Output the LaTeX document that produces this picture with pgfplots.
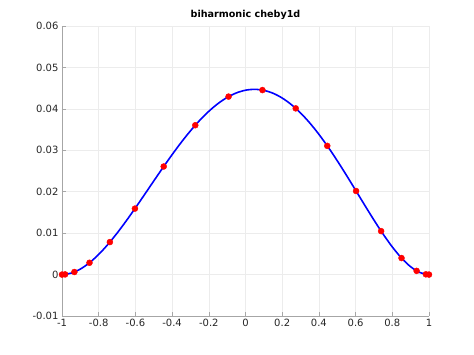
\documentclass[border=0pt]{standalone}
\usepackage{pgfplots}
\pgfplotsset{compat=1.18}
\usepackage{fontspec}
\setmainfont{DejaVu Sans}
\definecolor{axgray}{RGB}{38,38,38}
\begin{document}
\begin{tikzpicture}[x=1pt,y=1pt]
\useasboundingbox (-62,-39) rectangle (412,316);
\begin{axis}[
  at={(0,0)}, anchor=south west,
  scale only axis, width=367pt, height=290pt,
  xmin=-1, xmax=1, ymin=-0.01, ymax=0.06,
  xtick={-1,-0.8,...,1.01}, ytick={-0.01,0,0.01,0.02,0.03,0.04,0.05,0.06},
  xticklabels={-1,-0.8,-0.6,-0.4,-0.2,0,0.2,0.4,0.6,0.8,1},
  yticklabels={-0.01,0,0.01,0.02,0.03,0.04,0.05,0.06},
  scaled y ticks=false, scaled x ticks=false,
  axis x line*=bottom, axis y line*=left,
  axis line style={gray!70, line width=0.8pt, -},
  grid=major, grid style={gray!15, line width=0.5pt},
  tick style={gray!70, line width=0.6pt}, major tick length=4pt,
  tick align=inside,
  ticklabel style={font=\fontsize{10}{11}\selectfont, text=axgray},
  /pgf/number format/assume math mode=true,
  title={\textbf{biharmonic cheby1d}},
  title style={font=\fontsize{9.6}{10}\selectfont, yshift=-3pt},
  clip=false,
]
\addplot[blue, line width=1.6pt, smooth] coordinates {
(-1,0) (-0.95,0.000344) (-0.9,0.001324) (-0.85,0.002857) (-0.8,0.004865)
(-0.75,0.007269) (-0.7,0.009991) (-0.65,0.012955) (-0.6,0.016089)
(-0.55,0.019322) (-0.5,0.022584) (-0.45,0.025812) (-0.4,0.028944)
(-0.35,0.031921) (-0.3,0.034689) (-0.25,0.037200) (-0.2,0.039408)
(-0.15,0.041273) (-0.1,0.042762) (-0.05,0.043845) (0,0.0445)
(0.05,0.044711) (0.1,0.044467) (0.15,0.043767) (0.2,0.042615)
(0.25,0.041023) (0.3,0.039012) (0.35,0.036610) (0.4,0.033855)
(0.45,0.030792) (0.5,0.027478) (0.55,0.023978) (0.6,0.020365)
(0.65,0.016727) (0.7,0.013158) (0.75,0.009767) (0.8,0.006669)
(0.85,0.003996) (0.9,0.001889) (0.95,0.000502) (1,0)
};
\addplot[only marks, mark=*, mark size=3pt, color=red, mark options={fill=red, draw=red}] coordinates {
(-1,0) (-0.9830,0.0000408) (-0.9325,0.000619) (-0.8502,0.002850)
(-0.7390,0.007843) (-0.6026,0.015923) (-0.4457,0.026086) (-0.2737,0.036045)
(-0.0923,0.042956) (0.0923,0.044534) (0.2737,0.040120) (0.4457,0.031066)
(0.6026,0.020176) (0.7390,0.010492) (0.8502,0.003987) (0.9325,0.000895)
(0.9830,0.0000603) (1,0)
};
\end{axis}
\end{tikzpicture}
\end{document}
